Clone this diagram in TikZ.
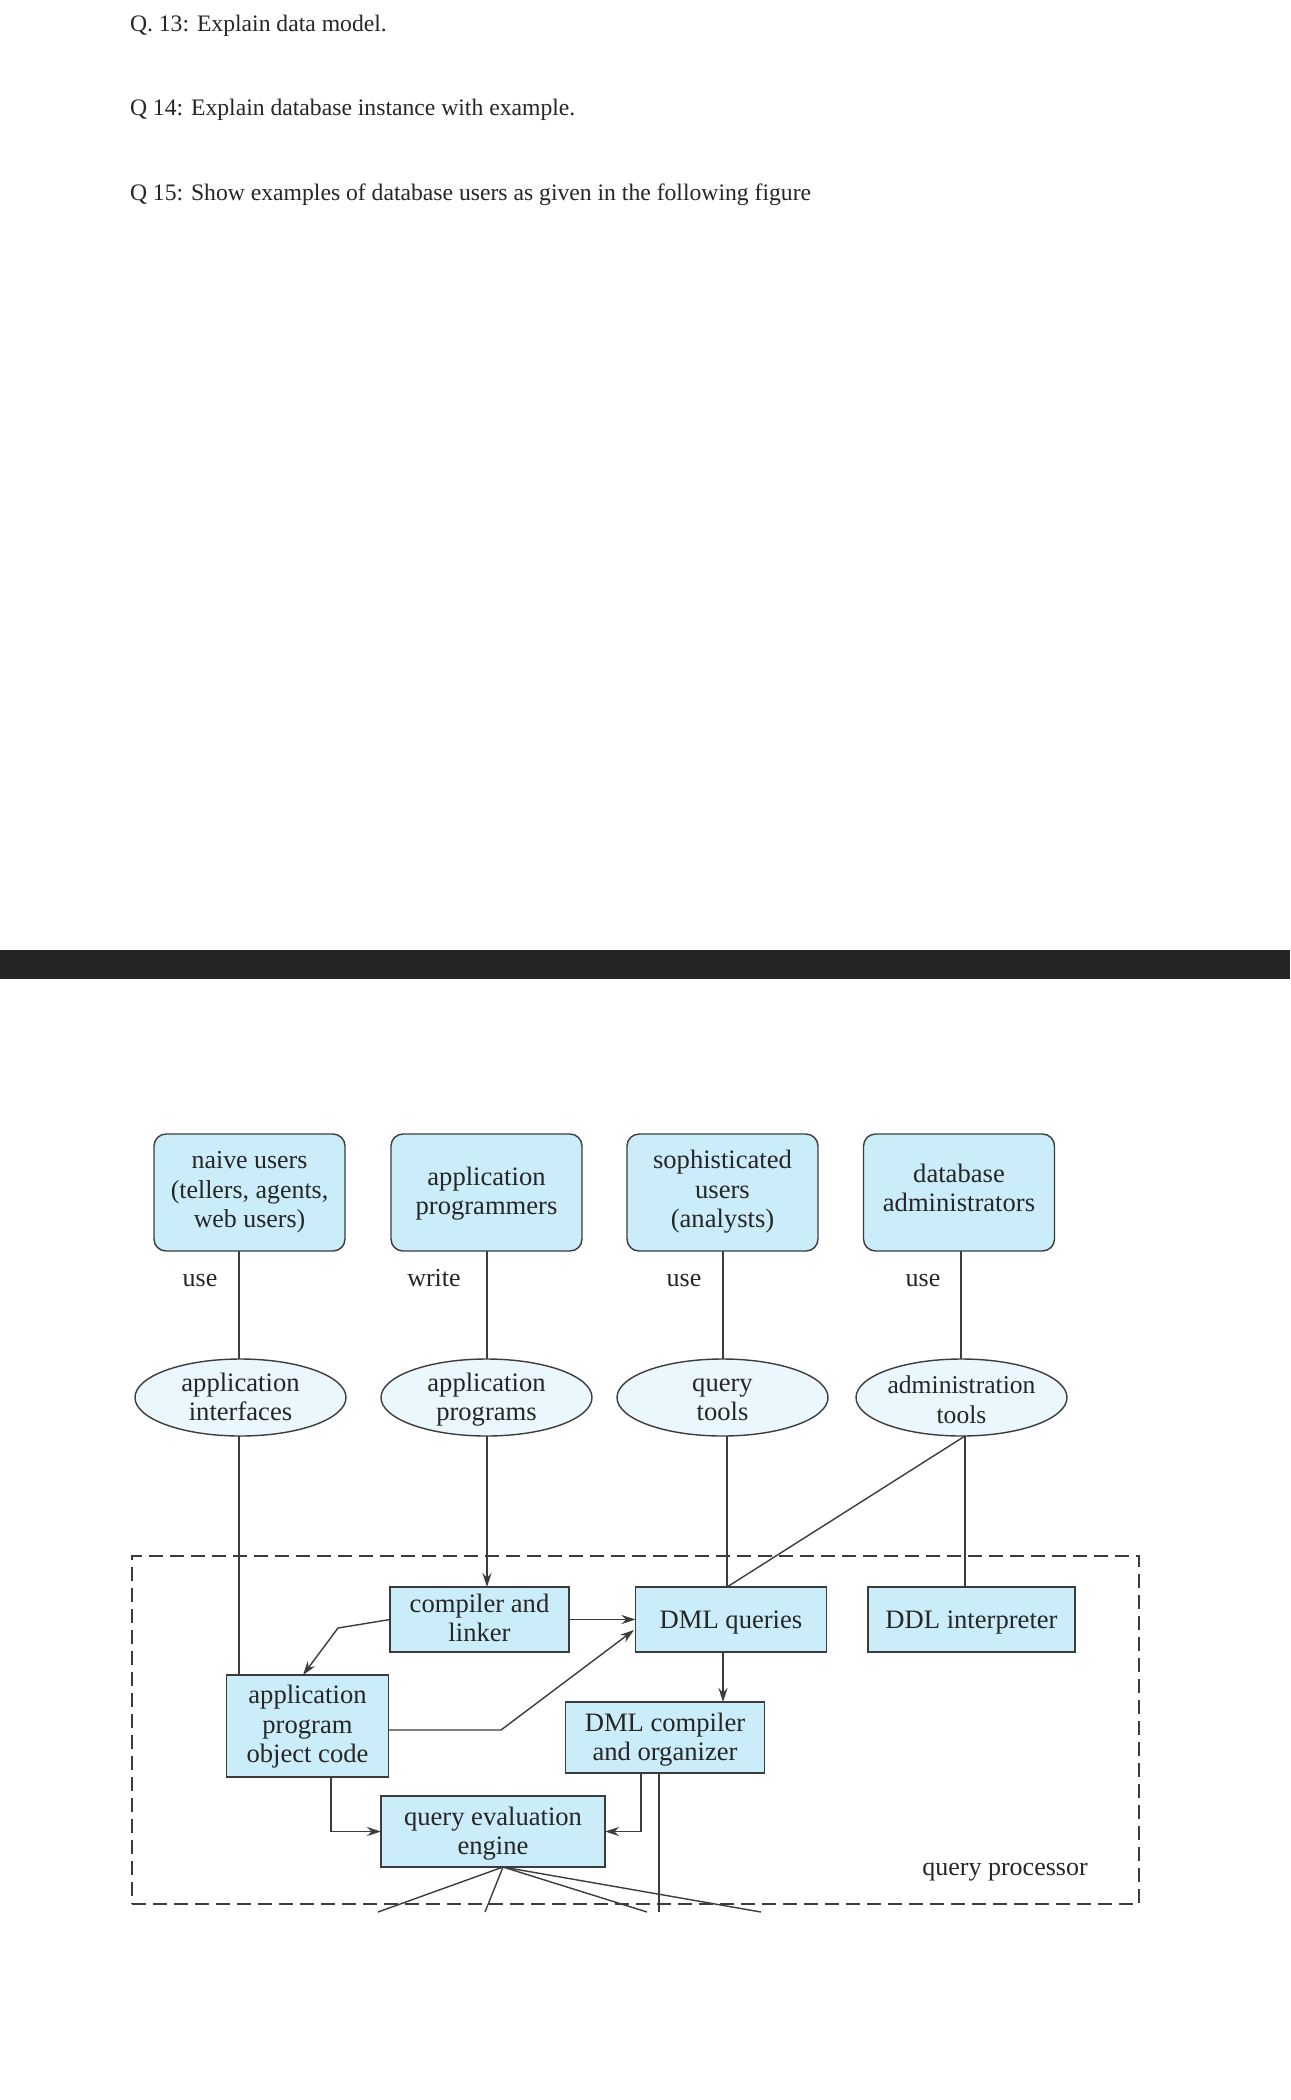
\documentclass[tikz,border=0pt]{standalone}
\usepackage{fontspec}
\setmainfont{Liberation Serif}
\usetikzlibrary{shapes.geometric,arrows.meta}
\definecolor{boxfill}{HTML}{CBECF9}
\definecolor{ellfill}{HTML}{EAF7FD}
\definecolor{ink}{HTML}{3C3C3C}
\definecolor{band}{HTML}{232527}
\newcommand\tpa[1]{\rule{0pt}{\dimexpr 20.65pt+#1pt\relax}}
\tikzset{
  x=1pt,y=-1pt,
  every node/.style={text=black!85,align=center,font=\fontsize{26.6}{29.5}\selectfont,inner sep=0pt,outer sep=0pt},
  userbox/.style={draw=ink,line width=1.4pt,fill=boxfill,rounded corners=12pt,minimum width=191pt,minimum height=117pt},
  toolell/.style={ellipse,draw=ink,line width=1.4pt,fill=ellfill,minimum width=211pt,minimum height=77pt,inner xsep=-30pt,inner ysep=-22pt},
  procbox/.style={draw=ink,line width=1.4pt,fill=boxfill},
  conn/.style={draw=ink,line width=1.4pt},
  arr/.style={conn,-{Stealth[length=14pt,width=9pt]}},
  question/.style={anchor=west,font=\fontsize{23.65}{28}\selectfont},
  lab/.style={font=\fontsize{26}{29.5}\selectfont},
}
\begin{document}
\begin{tikzpicture}
\useasboundingbox (0,0) rectangle (1290,2100);
\fill[white] (0,0) rectangle (1290,2100);
\fill[band] (0,950) rectangle (1290,979);
\node[question] (q13) at (130,26) {\strut Q. 13: Explain data model.};
\node[question] (q14) at (130,110) {\strut Q 14: Explain database instance with example.};
\node[question] (q15) at (130,195) {\strut Q 15: Show examples of database users as given in the following figure};

\node[draw=ink,line width=1.5pt,dash pattern=on 14pt off 7pt,minimum width=1007pt,minimum height=348pt] (qp) at (635.5,1730) {};

\node[userbox,font=\fontsize{25.9}{29.5}\selectfont] (naive) at (249.5,1192.5) {\strut naive users\\(tellers, agents,\\web users)\strut};
\node[userbox] (prog) at (486.5,1192.5) {\tpa{2.7}application\\programmers\strut};
\node[userbox] (soph) at (722.5,1192.5) {\strut sophisticated\\users\\(analysts)\strut};
\node[userbox] (dba) at (959,1192.5) {\strut database\\administrators\rule[-12pt]{0pt}{1pt}};

\node[toolell] (ifaces) at (240.5,1397.5) {\tpa{5.4}application\\interfaces\strut};
\node[toolell] (progs) at (486.5,1397.5) {\tpa{5.4}application\\programs\strut};
\node[toolell] (qtools) at (722.5,1397.5) {\tpa{5.4}query\\tools\strut};
\node[toolell,font=\fontsize{25.6}{29.5}\selectfont] (atools) at (961.5,1397.5) {\tpa{10.6}administration\\tools\strut};

\node[procbox,minimum width=179pt,minimum height=65pt] (linker) at (479.5,1619.5) {\tpa{2.7}compiler and\\linker\strut};
\node[procbox,minimum width=191pt,minimum height=65pt] (dml) at (731,1619.5) {\tpa{5.4}DML queries\strut};
\node[procbox,minimum width=207pt,minimum height=65pt] (ddl) at (971.5,1619.5) {\tpa{5.4}DDL interpreter\strut};
\node[procbox,minimum width=162pt,minimum height=102pt] (obj) at (307.5,1726) {\tpa{2.7}application\\program\\object code\strut};
\node[procbox,minimum width=199pt,minimum height=71pt] (dmlc) at (665,1737.5) {\tpa{5.4}DML compiler\\and organizer\strut};
\node[procbox,minimum width=224pt,minimum height=71pt] (qe) at (493,1831.5) {\tpa{5.4}query evaluation\\engine\strut};

\node[lab] (use1) at (200,1280.7) {\strut use};
\node[lab] (write) at (434,1280.7) {\strut write};
\node[lab] (use2) at (684,1280.7) {\strut use};
\node[lab] (use3) at (923,1280.7) {\strut use};
\node[lab] (qplab) at (1005,1869.7) {\strut query processor};

\draw[conn] (239,0 |- naive.south) -- (239,0 |- ifaces.north);
\draw[conn] (487,0 |- prog.south) -- (487,0 |- progs.north);
\draw[conn] (723,0 |- soph.south) -- (723,0 |- qtools.north);
\draw[conn] (961,0 |- dba.south) -- (961,0 |- atools.north);

\draw[conn] (239,0 |- ifaces.south) -- (239,0 |- obj.north);
\draw[arr] (487,0 |- progs.south) -- (487,0 |- linker.north);
\draw[conn] (727,0 |- qtools.south) -- (727,0 |- dml.north);
\draw[conn] (965,0 |- atools.south) -- (727,0 |- dml.north);
\draw[conn] (965,0 |- atools.south) -- (965,0 |- ddl.north);

\draw[arr] (linker.east) -- (dml.west);
\coordinate (bendA) at (338,1628);
\draw[arr] (linker.west) -- (bendA) -- (303,0 |- obj.north);
\coordinate (bendB) at (501,1730);
\draw[arr] (obj.east |- bendB) -- (bendB) -- (634,1630);
\draw[arr] (723,0 |- dml.south) -- (723,0 |- dmlc.north);
\draw[arr] (331,0 |- obj.south) |- (qe.west);
\draw[arr] (641,0 |- dmlc.south) |- (qe.east);

\coordinate (qeout) at (503,1867);
\coordinate (fana) at (378,1912);
\coordinate (fanb) at (485,1912);
\coordinate (fanc) at (647,1912);
\coordinate (fand) at (761,1912);
\coordinate (fane) at (659,1912);
\draw[conn] (qeout) -- (fana);
\draw[conn] (qeout) -- (fanb);
\draw[conn] (qeout) -- (fanc);
\draw[conn] (qeout) -- (fand);
\draw[conn] (659,0 |- dmlc.south) -- (fane);
\end{tikzpicture}
\end{document}
